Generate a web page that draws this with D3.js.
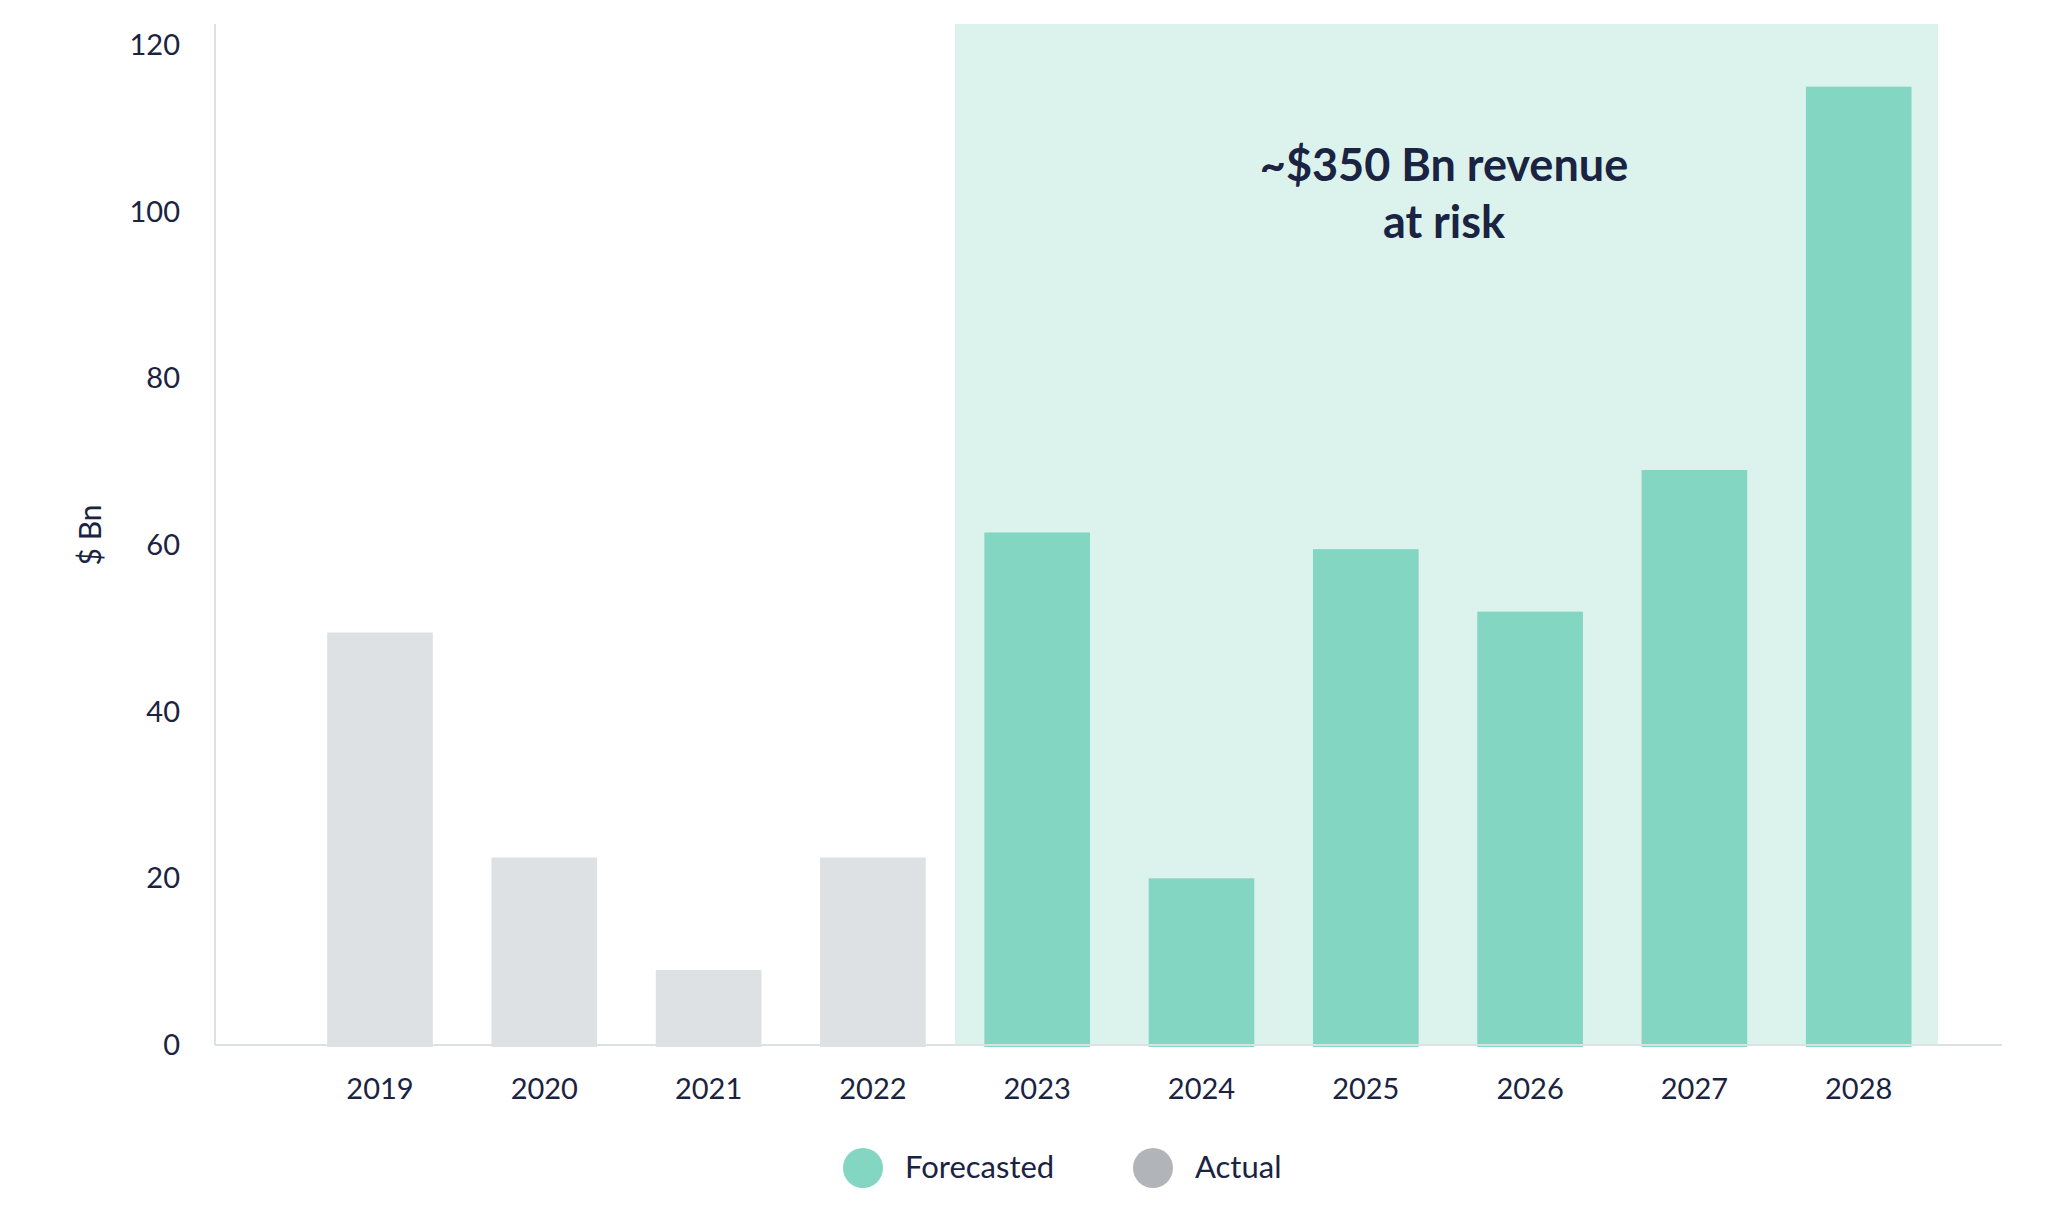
<!DOCTYPE html>
<html><head><meta charset="utf-8">
<script src="https://cdn.jsdelivr.net/npm/d3@7"></script>
<style>body{margin:0;background:#fff}svg{font-family:Lato,"Open Sans",sans-serif}</style>
</head><body><svg id="c" width="2048" height="1212"></svg>
<script>
const years = ["2019","2020","2021","2022","2023","2024","2025","2026","2027","2028"];
const values = [49.5,22.5,9,22.5,61.5,20,59.5,52,69,115];
const kinds = ["Actual","Actual","Actual","Actual","Forecasted","Forecasted","Forecasted","Forecasted","Forecasted","Forecasted"];
const yTicks = [0,20,40,60,80,100,120];
const legendItems = ["Forecasted","Actual"];
const colors = {Forecasted:"#82d6c2", Actual:"#dde1e3"};
const legendColors = {Forecasted:"#82d6c2", Actual:"#b1b5b9"};
const ink = "#1a2341";

const svg = d3.select("#c");
const x = d3.scaleBand().domain(years).range([297.85,1940.85]).paddingInner(0.357).paddingOuter(0.1785);
const y = d3.scaleLinear().domain([0,120]).range([1045,45]);

// shaded forecast region
const fx0 = x("2023") - x.step()*x.paddingInner()/2;
svg.append("rect").attr("x",fx0).attr("y",24).attr("width",1938-fx0).attr("height",y(0)-24).attr("fill","#dcf2ec");

// bars
svg.selectAll("rect.bar").data(years).join("rect").attr("class","bar")
  .attr("x",d=>x(d)).attr("width",x.bandwidth())
  .attr("y",(d,i)=>y(values[i])).attr("height",(d,i)=>y(0)-y(values[i])+2)
  .attr("fill",(d,i)=>colors[kinds[i]]);

// axes lines
svg.append("line").attr("x1",215).attr("x2",215).attr("y1",24).attr("y2",y(0)).attr("stroke","#dde1e3").attr("stroke-width",2);
svg.append("line").attr("x1",215).attr("x2",2002).attr("y1",y(0)).attr("y2",y(0)).attr("stroke","#dde1e3").attr("stroke-width",2);

// y ticks
svg.selectAll("text.yt").data(yTicks).join("text").attr("class","yt")
  .attr("x",180).attr("y",d=>y(d)).attr("dy","0.35em").attr("text-anchor","end")
  .attr("font-size",29).attr("fill",ink).text(d=>d);
// x labels
svg.selectAll("text.xt").data(years).join("text").attr("class","xt")
  .attr("x",d=>x(d)+x.bandwidth()/2).attr("y",1089).attr("dy","0.35em").attr("text-anchor","middle")
  .attr("font-size",29).attr("fill",ink).text(d=>d);
// y label
svg.append("text").attr("transform","translate(90,535) rotate(-90)").attr("text-anchor","middle").attr("dy","0.35em")
  .attr("font-size",30).attr("fill",ink).text("$ Bn");
// annotation
svg.append("text").attr("x",1444).attr("y",165).attr("dy","0.35em").attr("text-anchor","middle")
  .attr("font-size",45).attr("font-weight","bold").attr("fill",ink).text("~$350 Bn revenue");
svg.append("text").attr("x",1444).attr("y",222).attr("dy","0.35em").attr("text-anchor","middle")
  .attr("font-size",45).attr("font-weight","bold").attr("fill",ink).text("at risk");
// legend
const lx = [863,1153];
legendItems.forEach((k,i)=>{
  svg.append("circle").attr("cx",lx[i]).attr("cy",1168).attr("r",20).attr("fill",legendColors[k]);
  svg.append("text").attr("x",lx[i]+42).attr("y",1167).attr("dy","0.35em").attr("font-size",31).attr("fill",ink).text(k);
});
</script></body></html>
